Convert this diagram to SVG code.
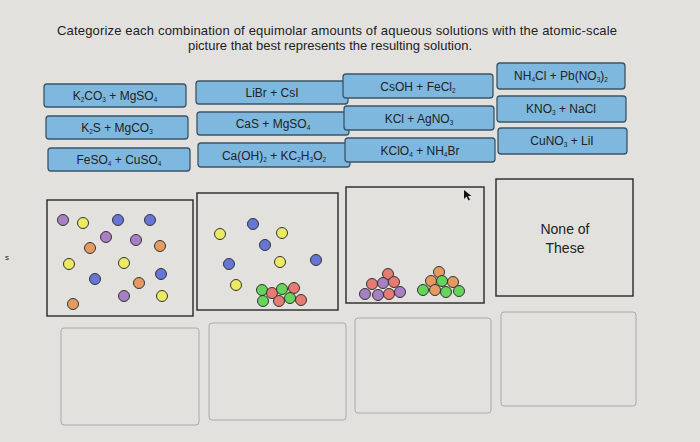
<svg xmlns="http://www.w3.org/2000/svg" width="700" height="442" viewBox="0 0 700 442">
<style>
text{font-family:"Liberation Sans",Arial,sans-serif;fill:#222}
.t{font-size:13px}
.b rect{fill:#7fb8df;stroke:#3c5466;stroke-width:1.3}
.b text{font-size:12px;text-anchor:middle}
.s{font-size:6.5px}
.box{fill:none;stroke:#333;stroke-width:1.5}
.emp{fill:none;stroke:#aaa;stroke-width:1}
circle{stroke:#333;stroke-width:1}
.y{fill:#ecea62}.p{fill:#a77fc2}.bl{fill:#6676d6}.o{fill:#e59a61}.g{fill:#66d35a}.r{fill:#e57b72}
</style>
<rect width="700" height="442" fill="#e3e1dd"/>
<text x="5" y="260" style="font-size:8px">s</text>
<text class="t" x="57" y="35" textLength="560">Categorize each combination of equimolar amounts of aqueous solutions with the atomic-scale</text>
<text class="t" x="330" y="50" text-anchor="middle">picture that best represents the resulting solution.</text>
<g id="buttons">
<g id="n1" class="b"><rect x="44" y="84" width="142" height="23" rx="3"/><text x="115" y="100">K<tspan class="s" dy="2">2</tspan><tspan dy="-2">CO</tspan><tspan class="s" dy="2">3</tspan><tspan dy="-2"> + MgSO</tspan><tspan class="s" dy="2">4</tspan></text></g>
<g id="n2" class="b"><rect x="46" y="116" width="142" height="23" rx="3"/><text x="117" y="132">K<tspan class="s" dy="2">2</tspan><tspan dy="-2">S + MgCO</tspan><tspan class="s" dy="2">3</tspan></text></g>
<g id="n3" class="b"><rect x="48" y="148" width="142" height="23" rx="3"/><text x="119" y="164">FeSO<tspan class="s" dy="2">4</tspan><tspan dy="-2"> + CuSO</tspan><tspan class="s" dy="2">4</tspan></text></g>
<g id="n4" class="b"><rect x="196" y="81" width="152" height="23" rx="3"/><text x="272" y="97">LiBr + CsI</text></g>
<g id="n5" class="b"><rect x="197" y="112" width="152" height="23" rx="3"/><text x="273" y="128">CaS + MgSO<tspan class="s" dy="2">4</tspan></text></g>
<g id="n6" class="b"><rect x="198" y="143" width="152" height="24" rx="3"/><text x="274" y="160">Ca(OH)<tspan class="s" dy="2">2</tspan><tspan dy="-2"> + KC</tspan><tspan class="s" dy="2">2</tspan><tspan dy="-2">H</tspan><tspan class="s" dy="2">3</tspan><tspan dy="-2">O</tspan><tspan class="s" dy="2">2</tspan></text></g>
<g id="n7" class="b"><rect x="343" y="74" width="150" height="24" rx="3"/><text x="418" y="91">CsOH + FeCl<tspan class="s" dy="2">2</tspan></text></g>
<g id="n8" class="b"><rect x="344" y="106" width="150" height="24" rx="3"/><text x="419" y="123">KCl + AgNO<tspan class="s" dy="2">3</tspan></text></g>
<g id="n9" class="b"><rect x="345" y="138" width="150" height="24" rx="3"/><text x="420" y="155">KClO<tspan class="s" dy="2">4</tspan><tspan dy="-2"> + NH</tspan><tspan class="s" dy="2">4</tspan><tspan dy="-2">Br</tspan></text></g>
<g id="n10" class="b"><rect x="497" y="63" width="128" height="26" rx="3"/><text x="561" y="80">NH<tspan class="s" dy="2">4</tspan><tspan dy="-2">Cl + Pb(NO</tspan><tspan class="s" dy="2">3</tspan><tspan dy="-2">)</tspan><tspan class="s" dy="2">2</tspan></text></g>
<g id="n11" class="b"><rect x="497" y="96" width="129" height="26" rx="3"/><text x="561" y="113">KNO<tspan class="s" dy="2">3</tspan><tspan dy="-2"> + NaCl</tspan></text></g>
<g id="n12" class="b"><rect x="498" y="128" width="129" height="26" rx="3"/><text x="562" y="145">CuNO<tspan class="s" dy="2">3</tspan><tspan dy="-2"> + LiI</tspan></text></g>
</g>
<g id="box1"><rect class="box" x="47" y="200" width="146" height="116"/>
<circle class="p" cx="63" cy="220" r="5.5"/><circle class="y" cx="83" cy="223" r="5.5"/><circle class="bl" cx="118" cy="220" r="5.5"/><circle class="bl" cx="150" cy="220" r="5.5"/>
<circle class="p" cx="106" cy="237" r="5.5"/><circle class="p" cx="136" cy="240" r="5.5"/><circle class="o" cx="90" cy="248" r="5.5"/><circle class="o" cx="160" cy="246" r="5.5"/>
<circle class="y" cx="69" cy="264" r="5.5"/><circle class="y" cx="124" cy="263" r="5.5"/><circle class="bl" cx="95" cy="279" r="5.5"/><circle class="bl" cx="161" cy="274" r="5.5"/>
<circle class="o" cx="139" cy="283" r="5.5"/><circle class="p" cx="124" cy="296" r="5.5"/><circle class="y" cx="162" cy="296" r="5.5"/><circle class="o" cx="73" cy="304" r="5.5"/></g>
<g id="box2"><rect class="box" x="197" y="193" width="141" height="117"/>
<circle class="y" cx="220" cy="234" r="5.5"/><circle class="bl" cx="253" cy="224" r="5.5"/><circle class="y" cx="282" cy="233" r="5.5"/><circle class="bl" cx="265" cy="245" r="5.5"/>
<circle class="bl" cx="229" cy="264" r="5.5"/><circle class="y" cx="280" cy="262" r="5.5"/><circle class="bl" cx="316" cy="260" r="5.5"/><circle class="y" cx="236" cy="285" r="5.5"/>
<circle class="g" cx="262" cy="290" r="5.5"/><circle class="r" cx="272" cy="293" r="5.5"/><circle class="g" cx="282" cy="289" r="5.5"/><circle class="r" cx="294" cy="288" r="5.5"/>
<circle class="g" cx="263" cy="301" r="5.5"/><circle class="r" cx="279" cy="301" r="5.5"/><circle class="g" cx="290" cy="298" r="5.5"/><circle class="r" cx="301" cy="300" r="5.5"/></g>
<g id="box3"><rect class="box" x="346" y="187" width="138" height="116"/>
<circle class="r" cx="388" cy="274" r="5.5"/><circle class="r" cx="372" cy="284" r="5.5"/><circle class="p" cx="383" cy="283" r="5.5"/><circle class="r" cx="394" cy="282" r="5.5"/>
<circle class="p" cx="365" cy="294" r="5.5"/><circle class="p" cx="378" cy="295" r="5.5"/><circle class="r" cx="389" cy="294" r="5.5"/><circle class="p" cx="400" cy="292" r="5.5"/>
<circle class="o" cx="439" cy="272" r="5.5"/><circle class="o" cx="431" cy="281" r="5.5"/><circle class="g" cx="442" cy="281" r="5.5"/><circle class="o" cx="453" cy="282" r="5.5"/>
<circle class="g" cx="423" cy="290" r="5.5"/><circle class="o" cx="435" cy="290" r="5.5"/><circle class="g" cx="446" cy="292" r="5.5"/><circle class="g" cx="459" cy="291" r="5.5"/>
<path d="M464 190 l0 9 l2.5 -2.5 l2 4 l1.5 -0.8 l-2 -3.8 l3.5 0 z" fill="#111"/></g>
<g id="box4"><rect class="box" x="496" y="179" width="137" height="117"/>
<text x="565" y="234" text-anchor="middle" style="font-size:14px">None of</text><text x="565" y="253" text-anchor="middle" style="font-size:14px">These</text></g>
<g id="targets">
<rect class="emp" x="61" y="328" width="138" height="97" rx="3"/>
<rect class="emp" x="209" y="323" width="137" height="97" rx="3"/>
<rect class="emp" x="355" y="318" width="136" height="95" rx="3"/>
<rect class="emp" x="501" y="312" width="135" height="94" rx="3"/>
</g>
<g id="connectors"/>
</svg>
